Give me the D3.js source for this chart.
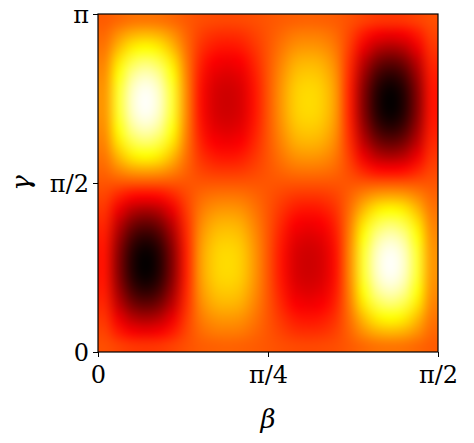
<!DOCTYPE html>
<html><head><meta charset="utf-8">
<script src="https://cdn.jsdelivr.net/npm/d3@7"></script>
<style>body{margin:0;background:#fff}svg text{font-family:"DejaVu Serif",serif}</style>
</head><body><svg id="c" width="474" height="443"></svg>
<script>
// amplitude along beta (0..pi/2), 25 samples
const betaAmp=[.1,.3,.45,.5,.45,.3,.08,-.1,-.18,-.2,-.18,-.1,0,.1,.18,.2,.18,.1,-.08,-.3,-.45,-.5,-.45,-.3,-.1];
// profile along gamma (0..pi), 25 samples
const gammaProf=[-.1,-.3,-.5,-.71,-.87,-.97,-1,-.97,-.87,-.71,-.5,-.26,0,.26,.5,.71,.87,.97,1,.97,.87,.71,.5,.3,.1];
const xTicks=[0,Math.PI/4,Math.PI/2], xTickLabels=["0","π/4","π/2"];
const yTicks=[0,Math.PI/2,Math.PI], yTickLabels=["0","π/2","π"];
const L=98,R=438,T=14,B=352;
const svg=d3.select("#c");
const col=t=>{t=Math.max(0,Math.min(1,t));const r=Math.min(1,t/0.375),g=Math.min(1,Math.max(0,(t-0.375)/0.375)),b=Math.max(0,(t-0.75)/0.25);return [r*255,g*255,b*255]};
const nx=betaAmp.length, ny=gammaProf.length;
const cv=document.createElement("canvas");cv.width=nx;cv.height=ny;
const ctx=cv.getContext("2d");const img=ctx.createImageData(nx,ny);
betaAmp.forEach((a,i)=>gammaProf.forEach((g,j)=>{const c=col(0.5+a*g);const k=((ny-1-j)*nx+i)*4;img.data[k]=c[0];img.data[k+1]=c[1];img.data[k+2]=c[2];img.data[k+3]=255;}));
ctx.putImageData(img,0,0);
const big=document.createElement("canvas");big.width=(R-L)*2;big.height=(B-T)*2;
const bctx=big.getContext("2d");bctx.imageSmoothingEnabled=true;bctx.imageSmoothingQuality="high";
bctx.drawImage(cv,0,0,nx,ny,0,0,big.width,big.height);
svg.append("image").attr("x",L).attr("y",T).attr("width",R-L).attr("height",B-T).attr("preserveAspectRatio","none").attr("href",big.toDataURL());
const x=d3.scaleLinear().domain([0,Math.PI/2]).range([L,R]);
const y=d3.scaleLinear().domain([0,Math.PI]).range([B,T]);
svg.append("rect").attr("x",L).attr("y",T).attr("width",R-L).attr("height",B-T).attr("fill","none").attr("stroke","#000").attr("stroke-width",1.2);
const xa=svg.append("g").attr("transform",`translate(0,${B})`).call(d3.axisBottom(x).tickValues(xTicks).tickFormat((d,i)=>xTickLabels[i]).tickSize(5).tickPadding(4));
const ya=svg.append("g").attr("transform",`translate(${L},0)`).call(d3.axisLeft(y).tickValues(yTicks).tickFormat((d,i)=>yTickLabels[i]).tickSize(5).tickPadding(4));
[xa,ya].forEach(a=>{a.select(".domain").remove();a.selectAll("text").attr("font-size",24).attr("font-family","DejaVu Serif");});
xa.selectAll("text").attr("dy","0.9em");
ya.selectAll("text").attr("dy","0.35em");
svg.append("text").attr("x",(L+R)/2).attr("y",428).attr("text-anchor","middle").attr("font-size",26).attr("font-style","italic").text("β");
svg.append("text").attr("x",30).attr("y",y(Math.PI/2)).attr("text-anchor","middle").attr("font-size",26).attr("font-style","italic").attr("transform",`rotate(-90,30,${y(Math.PI/2)})`).text("γ");
</script></body></html>
